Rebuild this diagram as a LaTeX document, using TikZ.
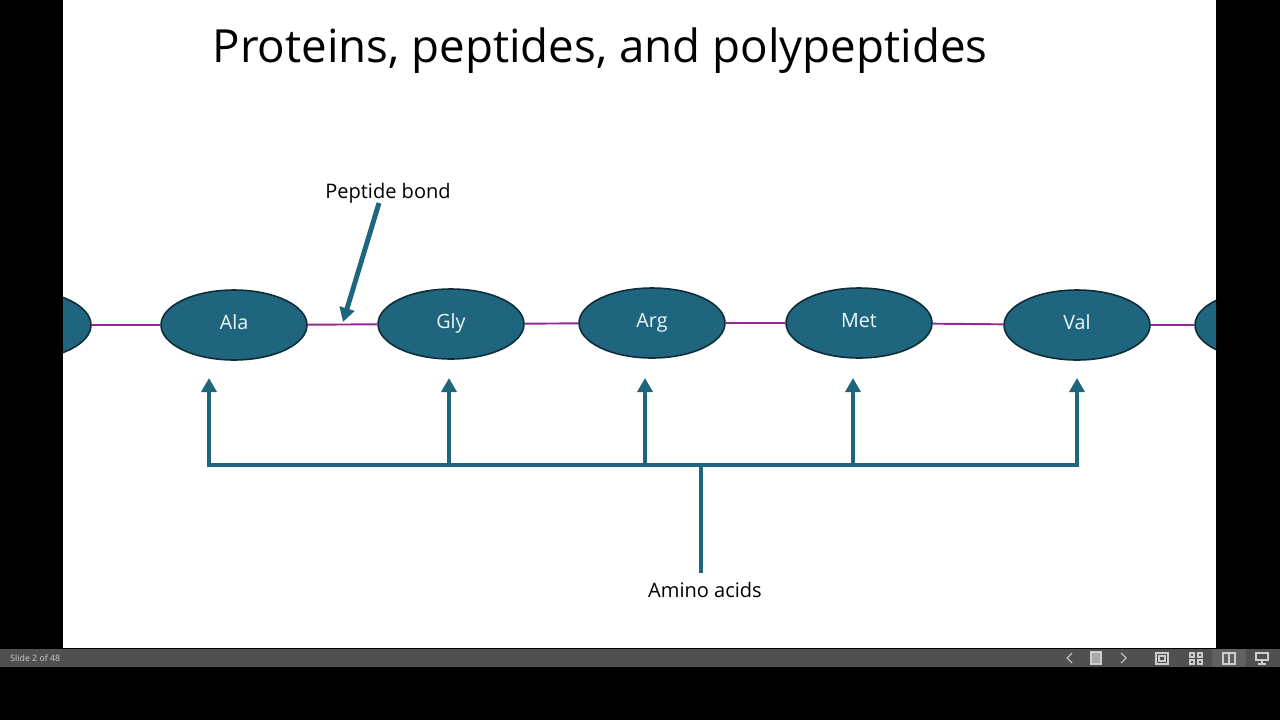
\documentclass[tikz,border=0pt]{standalone}
\usepackage{fontspec}
\setmainfont{Open Sans}
\usepackage{xcolor}
\usetikzlibrary{shapes.geometric,arrows.meta}
\definecolor{acidteal}{RGB}{31,101,126}
\definecolor{aciddark}{RGB}{14,45,56}
\definecolor{bondpurple}{RGB}{150,40,150}
\definecolor{bargray}{RGB}{80,80,80}
\definecolor{bargraylight}{RGB}{96,96,96}
\definecolor{icongray}{RGB}{205,205,205}
\tikzstyle{acid} = [ellipse, minimum width=2.92cm, minimum height=1.4cm, inner sep=0pt, text height=0.3cm, text depth=0.12cm, fill=acidteal, draw=aciddark, line width=0.9pt, text=white!92!cyan, font=\fontsize{11.2}{13}\selectfont]
\tikzstyle{bond} = [draw=bondpurple, line width=1.1pt]
\tikzstyle{pointer} = [draw=acidteal, line width=2.3pt, ->]
\tikzstyle{caption} = [font=\fontsize{11.4}{13}\selectfont, text=black, anchor=base, inner sep=0pt]
\tikzstyle{icon} = [draw=icongray, line width=0.6pt]

\begin{document}
\begin{tikzpicture}[x=0.02cm,y=-0.02cm]
    \tikzset{>={Triangle[length=8pt,width=8.5pt]}}
    % screen around the slide
    \fill[black] (0,0) rectangle (1280,720);
    \useasboundingbox (0,0) rectangle (1280,720);
    \fill[white] (63,0) rectangle (1216,648);
    \fill[bargray] (0,649) rectangle (1280,667);

    \node (title) at (600,62) [anchor=base, inner sep=0pt, font=\fontsize{26}{30}\selectfont] {Proteins, peptides, and polypeptides};

    % the chain
    \begin{scope}
    \clip (63,0) rectangle (1216,648);
    \node[acid] (first) at (18,325) {};
    \node[acid] (ala) at (234,325) {Ala};
    \node[acid] (gly) at (451,324) {Gly};
    \node[acid] (arg) at (652,323) {Arg};
    \node[acid] (met) at (859,323) {Met};
    \node[acid] (val) at (1077,325) {Val};
    \node[acid] (last) at (1268,325) {};
    \end{scope}

    \draw[bond] (first) -- (ala);
    \draw[bond] (ala) -- (gly);
    \draw[bond] (gly) -- (arg);
    \draw[bond] (arg) -- (met);
    \draw[bond] (met) -- (val);
    \draw[bond] (val) -- (last);

    % peptide bond pointer
    \node[caption] (pbond) at (388,198) {Peptide bond};
    \coordinate (pbond-start) at (379,203);
    \coordinate (pbond-tip) at (343,322);
    \draw[pointer, line width=2.8pt] (pbond-start) -- (pbond-tip);

    % amino acid pointers
    \coordinate (ala-foot) at (209,465);
    \coordinate (gly-foot) at (449,465);
    \coordinate (arg-foot) at (645,465);
    \coordinate (met-foot) at (853,465);
    \coordinate (val-foot) at (1077,465);
    \coordinate (ala-tip) at (209,378);
    \coordinate (gly-tip) at (449,378);
    \coordinate (arg-tip) at (645,378);
    \coordinate (met-tip) at (853,378);
    \coordinate (val-tip) at (1077,378);
    \coordinate (stem-top) at (701,465);
    \coordinate (stem-end) at (701,573);

    \draw[draw=acidteal, line width=2.3pt, line cap=rect] (ala-foot) -- (val-foot);
    \draw[pointer] (ala-foot) -- (ala-tip);
    \draw[pointer] (gly-foot) -- (gly-tip);
    \draw[pointer] (arg-foot) -- (arg-tip);
    \draw[pointer] (met-foot) -- (met-tip);
    \draw[pointer] (val-foot) -- (val-tip);
    \draw[draw=acidteal, line width=2.3pt] (stem-top) -- (stem-end);
    \node[caption] (amino) at (705,597) {Amino acids};

    % status bar
    \node (slideno) at (10,658) [anchor=west, inner sep=0pt, text=icongray, font=\fontsize{5}{6}\selectfont] {Slide 2 of 48};
    \draw[icon] (1072,653) -- (1067,658) -- (1072,663);
    \filldraw[icon, fill=icongray!70!bargray] (1091,652) rectangle (1101,664);
    \draw[icon] (1121,653) -- (1126,658) -- (1121,663);
    \draw[icon] (1156,653) rectangle (1168,664);
    \draw[icon] (1159,656) rectangle (1165,661);
    \draw[icon] (1190,653) rectangle (1194,657);
    \draw[icon] (1198,653) rectangle (1202,657);
    \draw[icon] (1190,660) rectangle (1194,664);
    \draw[icon] (1198,660) rectangle (1202,664);
    \fill[bargraylight] (1212,649) rectangle (1246,667);
    \draw[icon] (1223,653) rectangle (1235,664);
    \draw[icon] (1229,653) -- (1229,664);
    \draw[icon] (1256,653) rectangle (1268,660);
    \draw[icon] (1262,660) -- (1262,664);
    \draw[icon] (1258,664) -- (1266,664);
\end{tikzpicture}
\end{document}
